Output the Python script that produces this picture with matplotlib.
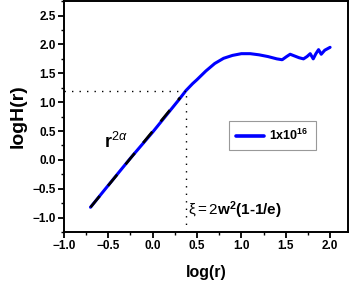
import matplotlib
matplotlib.use("Agg")
import matplotlib.pyplot as plt
from matplotlib.ticker import MultipleLocator

plt.rcParams['font.family'] = ['Liberation Sans', 'DejaVu Sans']
plt.rcParams['mathtext.fontset'] = 'custom'
plt.rcParams['mathtext.rm'] = 'Liberation Sans'
plt.rcParams['mathtext.bf'] = 'Liberation Sans:bold'
plt.rcParams['mathtext.it'] = 'Liberation Sans:italic'

# data
log_r = [-0.70, -0.50, -0.25, 0.00, 0.20, 0.30, 0.375, 0.45, 0.50, 0.60, 0.70,
         0.80, 0.90, 1.00, 1.10, 1.20, 1.30, 1.40, 1.46, 1.51, 1.55, 1.60,
         1.65, 1.70, 1.74, 1.776, 1.81, 1.84, 1.87, 1.90, 1.94, 2.00]
log_H = [-0.82, -0.44, 0.03, 0.48, 0.86, 1.05, 1.20, 1.32, 1.39, 1.54, 1.67,
         1.76, 1.81, 1.84, 1.84, 1.82, 1.79, 1.75, 1.735, 1.79, 1.83, 1.80,
         1.77, 1.75, 1.79, 1.84, 1.75, 1.84, 1.91, 1.83, 1.90, 1.95]
fit_x = [-0.70, 0.31]
fit_y = [-0.82, 1.08]
xi_x = 0.375
xi_y = 1.20
series_label = r'1x10$^{\mathbf{16}}$'

fig = plt.figure(figsize=(3.51, 2.81), dpi=100)
ax = fig.add_axes([0.182, 0.174, 0.809, 0.822])

ax.plot(log_r, log_H, color='#0000ff', lw=2.2, label=series_label, solid_capstyle='round')
ax.plot(fit_x, fit_y, color='black', lw=1.9, dashes=(5.5, 5))
ax.plot([-1.0, xi_x], [xi_y, xi_y], color='black', lw=1.0, dashes=(1, 4.4))
ax.plot([xi_x, xi_x], [-1.25, xi_y], color='black', lw=1.0, dashes=(1, 4.4))

ax.text(-0.545, 0.21, r'$\mathbf{r}^{2\alpha}$', fontsize=13, ha='left', va='baseline')
ax.text(0.398, -0.87, r'$\mathrm{\xi = 2}\mathbf{w}^{\mathbf{2}}$' + '(1-1/e)', fontsize=11,
        fontweight='bold', ha='left', va='center')

ax.set_xlim(-1.0, 2.2)
ax.set_ylim(-1.25, 2.75)
ax.xaxis.set_major_locator(MultipleLocator(0.5))
ax.xaxis.set_minor_locator(MultipleLocator(0.25))
ax.yaxis.set_major_locator(MultipleLocator(0.5))
ax.yaxis.set_minor_locator(MultipleLocator(0.25))
ax.set_xticks([-1.0, -0.5, 0.0, 0.5, 1.0, 1.5, 2.0])
ax.set_yticks([-1.0, -0.5, 0.0, 0.5, 1.0, 1.5, 2.0, 2.5])
ax.tick_params(which='major', direction='out', length=4, width=1.3, labelsize=8.5, pad=2)
ax.tick_params(which='minor', direction='out', length=2, width=1.0)
for lab in ax.get_xticklabels() + ax.get_yticklabels():
    lab.set_fontweight('bold')
for sp in ax.spines.values():
    sp.set_linewidth(1.4)

ax.set_xlabel('log(r)', fontsize=11.5, fontweight='bold', labelpad=9)
ax.set_ylabel('logH(r)', fontsize=14, fontweight='bold', labelpad=4)

leg = ax.legend(loc='upper left', bbox_to_anchor=(0.581, 0.48), borderaxespad=0,
                fancybox=False, edgecolor='#999999', framealpha=1,
                prop={'weight': 'bold', 'size': 9}, handlelength=2.3,
                borderpad=0.55, handletextpad=0.4)
leg.get_frame().set_linewidth(0.8)
for h in leg.legend_handles:
    h.set_linewidth(2.6)

fig.savefig('out.png', dpi=100)
